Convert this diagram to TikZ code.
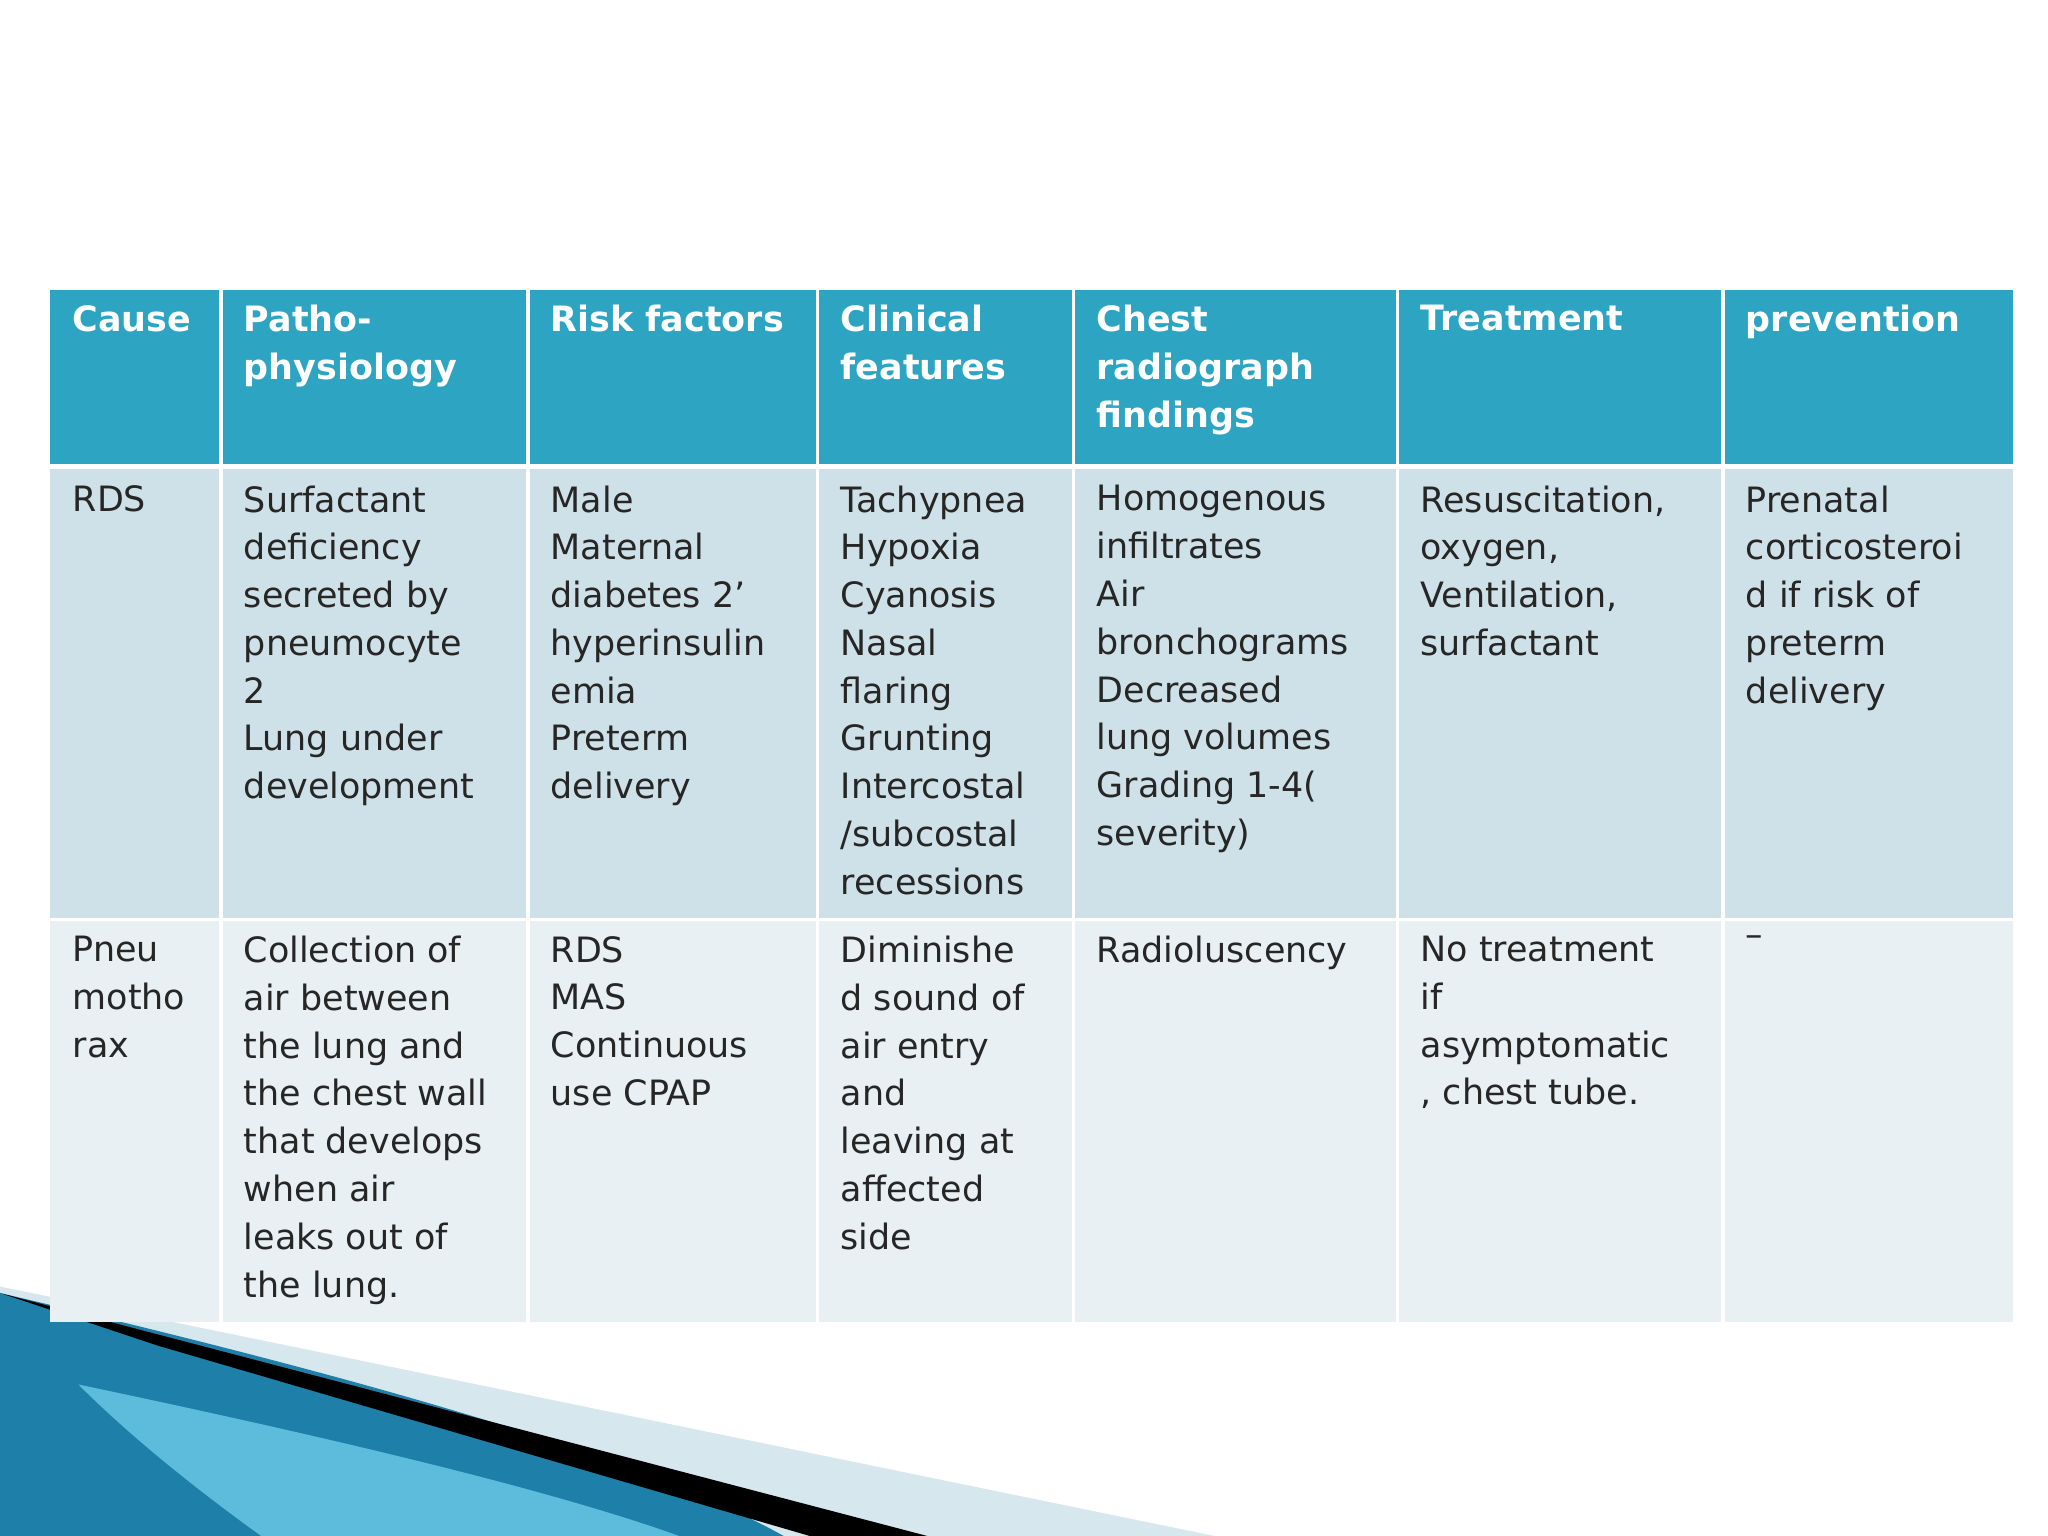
\documentclass[tikz,border=0pt]{standalone}
\usepackage{fontspec}
\setmainfont{DejaVu Sans}
\definecolor{hdr}{HTML}{2DA4C2}
\definecolor{rowa}{HTML}{CFE1E8}
\definecolor{rowb}{HTML}{E8F0F4}
\definecolor{swA}{HTML}{1E7FA8}
\definecolor{swB}{HTML}{5DBBDB}
\definecolor{swC}{HTML}{D6E7EE}
\tikzset{cell/.style={anchor=north west,inner sep=0pt,align=left,font=\fontsize{7.6}{10.4}\selectfont,text=black!85},
 head/.style={cell,text=white,font=\fontsize{7.6}{10.4}\selectfont\bfseries}}
\begin{document}
\begin{tikzpicture}[x=0.01cm,y=-0.01cm]
\useasboundingbox (0,0) rectangle (1568,1176);
% swoosh
\fill[swC] (0,985) -- (930,1176) -- (0,1176) -- cycle;
\fill[swA] (0,990) .. controls (300,1060) and (500,1120) .. (600,1176) -- (0,1176) -- cycle;
\fill[swB] (60,1060) .. controls (250,1100) and (420,1140) .. (520,1176) -- (200,1176) .. controls (150,1140) and (100,1100) .. (60,1060) -- cycle;
\fill[black] (0,990) -- (710,1176) -- (620,1176) -- (120,1030) -- cycle;
% table backgrounds
\fill[hdr] (38,222) rectangle (1541,357);
\fill[rowa] (38,357) rectangle (1541,704);
\fill[rowb] (38,704) rectangle (1541,1012);
\foreach \x in {169,404,626,822,1070,1319} \draw[white,line width=0.8pt] (\x,222) -- (\x,1012);
\draw[white,line width=1.2pt] (38,357) -- (1541,357);
\draw[white,line width=0.8pt] (38,704) -- (1541,704);
% header
\node[head] (h1) at (55,233) {Cause};
\node[head] (h2) at (186,233) {Patho-\\physiology};
\node[head] (h3) at (421,233) {Risk factors};
\node[head] (h4) at (643,233) {Clinical\\features};
\node[head] (h5) at (839,233) {Chest\\radiograph\\findings};
\node[head] (h6) at (1087,233) {Treatment};
\node[head] (h7) at (1336,233) {prevention};
% row 1
\node[cell] (a1) at (55,371) {RDS};
\node[cell] (a2) at (186,371) {Surfactant\\deficiency\\secreted by\\pneumocyte\\2\\Lung under\\development};
\node[cell] (a3) at (421,371) {Male\\Maternal\\diabetes 2’\\hyperinsulin\\emia\\Preterm\\delivery};
\node[cell] (a4) at (643,371) {Tachypnea\\Hypoxia\\Cyanosis\\Nasal\\flaring\\Grunting\\Intercostal\\/subcostal\\recessions};
\node[cell] (a5) at (839,371) {Homogenous\\infiltrates\\Air\\bronchograms\\Decreased\\lung volumes\\Grading 1-4(\\severity)};
\node[cell] (a6) at (1087,371) {Resuscitation,\\oxygen,\\Ventilation,\\surfactant};
\node[cell] (a7) at (1336,371) {Prenatal\\corticosteroi\\d if risk of\\preterm\\delivery};
% row 2
\node[cell] (b1) at (55,716) {Pneu\\motho\\rax};
\node[cell] (b2) at (186,716) {Collection of\\air between\\the lung and\\the chest wall\\that develops\\when air\\leaks out of\\the lung.};
\node[cell] (b3) at (421,716) {RDS\\MAS\\Continuous\\use CPAP};
\node[cell] (b4) at (643,716) {Diminishe\\d sound of\\air entry\\and\\leaving at\\affected\\side};
\node[cell] (b5) at (839,716) {Radioluscency};
\node[cell] (b6) at (1087,716) {No treatment\\if\\asymptomatic\\, chest tube.};
\node[cell] (b7) at (1336,716) {–};
\end{tikzpicture}
\end{document}
